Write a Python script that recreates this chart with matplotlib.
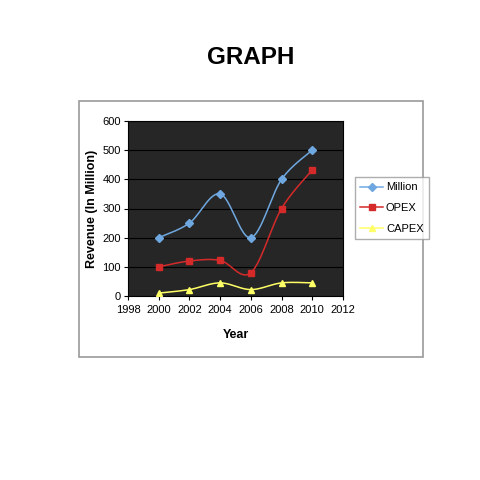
import numpy as np
import matplotlib
matplotlib.use("Agg")
import matplotlib.pyplot as plt
from matplotlib.patches import Rectangle

years = [2000, 2002, 2004, 2006, 2008, 2010]
million = [200, 250, 350, 200, 400, 500]
opex = [100, 120, 122, 80, 300, 432]
capex = [10, 22, 45, 22, 45, 45]


def smooth(x, y, n=30):
    # excel-style smoothed line (cardinal bezier through the points)
    x = np.asarray(x, float)
    y = np.asarray(y, float)
    px = np.concatenate([[x[0]], x, [x[-1]]])
    py = np.concatenate([[y[0]], y, [y[-1]]])
    xs, ys = [], []
    t = np.linspace(0, 1, n)
    for i in range(1, len(px) - 2):
        p0 = np.array([px[i], py[i]])
        p3 = np.array([px[i + 1], py[i + 1]])
        p1 = p0 + (np.array([px[i + 1], py[i + 1]]) - np.array([px[i - 1], py[i - 1]])) / 6
        p2 = p3 - (np.array([px[i + 2], py[i + 2]]) - np.array([px[i], py[i]])) / 6
        b = ((1 - t) ** 3)[:, None] * p0 + (3 * (1 - t) ** 2 * t)[:, None] * p1 \
            + (3 * (1 - t) * t ** 2)[:, None] * p2 + (t ** 3)[:, None] * p3
        xs.extend(b[:, 0])
        ys.extend(b[:, 1])
    return xs, ys


plt.rcParams["font.family"] = ["Liberation Sans", "DejaVu Sans"]

fig = plt.figure(figsize=(4.8, 4.8), dpi=100)
fig.patches.append(Rectangle((79 / 480, 1 - 357 / 480), 344 / 480, 256 / 480,
                             transform=fig.transFigure, fill=False,
                             edgecolor="#999999", linewidth=1.2))
fig.text(251 / 480, 1 - 57 / 480, "GRAPH", ha="center", va="center", fontsize=17.5,
         fontweight="bold")

ax = fig.add_axes([128 / 480, 1 - 296 / 480, 215 / 480, 175 / 480])
ax.set_facecolor("#262626")

series = [
    ("Million", million, "#6fa8e0", "D", 4),
    ("OPEX", opex, "#d42a2a", "s", 4.5),
    ("CAPEX", capex, "#ffff66", "^", 5),
]
for name, vals, col, mk, ms in series:
    sx, sy = smooth(years, vals)
    ax.plot(sx, sy, color=col, linewidth=1.1, zorder=3)
    ax.plot(years, vals, linestyle="none", marker=mk, markersize=ms,
            color=col, zorder=4)
    ax.plot([], [], color=col, marker=mk, markersize=ms, linewidth=1.1, label=name)

ax.set_xlim(1998, 2012)
ax.set_ylim(0, 600)
ax.set_xticks(range(1998, 2013, 2))
ax.set_yticks(range(0, 601, 100))
ax.grid(axis="y", color="black", linewidth=0.8)
ax.set_axisbelow(True)
for s in ax.spines.values():
    s.set_color("black")
ax.tick_params(labelsize=8, length=3, direction="out")
ax.tick_params(axis="y", pad=2)

ax.set_xlabel("Year", fontsize=9, fontweight="bold")
ax.set_ylabel("Revenue (In Million)", fontsize=9, fontweight="bold")
ax.xaxis.set_label_coords(0.5, (296 - 335) / 175)
ax.yaxis.set_label_coords((92 - 128) / 215, 0.5)
ax.yaxis.label.set_va("center")
ax.xaxis.label.set_va("center")

leg = fig.legend(loc="center", bbox_to_anchor=(392 / 480, 1 - 208 / 480),
                 frameon=True, fancybox=False, edgecolor="#999999",
                 prop={"size": 8},
                 handlelength=2.0, handletextpad=0.3, borderpad=0.45,
                 labelspacing=0.95, borderaxespad=0)

fig.savefig("out.png", dpi=100, facecolor="white")
